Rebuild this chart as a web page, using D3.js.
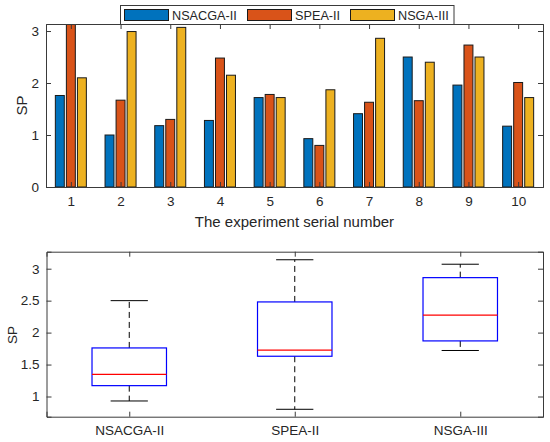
<!DOCTYPE html>
<html>
<head>
<meta charset="utf-8">
<script src="https://cdn.jsdelivr.net/npm/d3@7"></script>
<style>
  body { margin: 0; background: #fff; }
  svg { display: block; font-family: "Liberation Sans", Arial, sans-serif; }
  .tick text { font-size: 13.5px; fill: #262626; }
</style>
</head>
<body>
<svg width="550" height="442"></svg>
<script>
// data
const seriesNames = ["NSACGA-II", "SPEA-II", "NSGA-III"];
const runs = [1, 2, 3, 4, 5, 6, 7, 8, 9, 10];
const nsacga2 = [1.76, 1.00, 1.18, 1.28, 1.72, 0.93, 1.41, 2.50, 1.96, 1.17];
const spea2   = [3.14, 1.67, 1.30, 2.48, 1.78, 0.80, 1.63, 1.66, 2.73, 2.01];
const nsga3   = [2.10, 2.99, 3.07, 2.15, 1.72, 1.87, 2.86, 2.40, 2.50, 1.72];
const seriesColors = ["#0072BD", "#D95319", "#EDB120"];
const barTicks = [0, 1, 2, 3];
const boxTicks = [1, 1.5, 2, 2.5, 3];

const allSeries = [nsacga2, spea2, nsga3];
const svg = d3.select("svg");
const axisColor = "#3a3a3a";

// ---------- upper: grouped bars ----------
const upper = {l: 46, r: 543, t: 24, b: 187};
const x1 = d3.scaleLinear().domain([0.5, 10.5]).range([upper.l, upper.r]);
const y1 = d3.scaleLinear().domain([0, 3.135]).range([upper.b, upper.t]);

svg.append("clipPath").attr("id", "clipTop")
  .append("rect").attr("x", upper.l).attr("y", upper.t).attr("width", upper.r - upper.l).attr("height", upper.b - upper.t);

const barW = 0.18, barOff = 0.222;
const gBars = svg.append("g").attr("clip-path", "url(#clipTop)");
allSeries.forEach((vals, si) => {
  gBars.selectAll(null)
    .data(vals)
    .enter().append("rect")
    .attr("x", (d, i) => x1(runs[i] + (si - 1) * barOff - barW / 2))
    .attr("width", x1(barW) - x1(0))
    .attr("y", d => y1(d))
    .attr("height", d => y1(0) - y1(d))
    .attr("fill", seriesColors[si])
    .attr("stroke", "#1a1a1a")
    .attr("stroke-width", 1);
});

function frame(g, box, xs, ys, xt, yt, xfmt, yfmt) {
  const bx = g.append("g").attr("transform", `translate(0,${box.b})`)
    .call(d3.axisBottom(xs).tickValues(xt).tickSize(-5).tickPadding(9).tickFormat(xfmt));
  const tx = g.append("g").attr("transform", `translate(0,${box.t})`)
    .call(d3.axisTop(xs).tickValues(xt).tickSize(-5).tickFormat(""));
  const ly = g.append("g").attr("transform", `translate(${box.l},0)`)
    .call(d3.axisLeft(ys).tickValues(yt).tickSize(-5).tickPadding(7).tickFormat(yfmt));
  const ry = g.append("g").attr("transform", `translate(${box.r},0)`)
    .call(d3.axisRight(ys).tickValues(yt).tickSize(-5).tickFormat(""));
  [bx, tx, ly, ry].forEach(a => {
    a.selectAll("path.domain").attr("stroke", axisColor).attr("stroke-width", 1);
    a.selectAll(".tick line").attr("stroke", axisColor);
  });
}

frame(svg.append("g"), upper, x1, y1, runs, barTicks, d3.format("d"), d3.format("d"));

svg.append("text")
  .attr("x", (upper.l + upper.r) / 2).attr("y", 227)
  .attr("text-anchor", "middle").attr("font-size", 15).attr("fill", "#262626")
  .text("The experiment serial number");
svg.append("text")
  .attr("transform", `translate(27,${(upper.t + upper.b) / 2}) rotate(-90)`)
  .attr("text-anchor", "middle").attr("font-size", 15).attr("fill", "#262626")
  .text("SP");

// legend
const leg = svg.append("g");
leg.append("rect").attr("x", 120.5).attr("y", 5.5).attr("width", 333.5).attr("height", 19)
  .attr("fill", "#fff").attr("stroke", axisColor).attr("stroke-width", 1);
const legX = [124, 247, 350];
seriesNames.forEach((name, i) => {
  leg.append("rect").attr("x", legX[i] + 0.5).attr("y", 9.5).attr("width", 44).attr("height", 11)
    .attr("fill", seriesColors[i]).attr("stroke", "#1a1a1a");
  leg.append("text").attr("x", legX[i] + 48).attr("y", 20)
    .attr("font-size", 12.7).attr("fill", "#262626").text(name);
});

// ---------- bottom: box plots ----------
const bot = {l: 46.5, r: 543, t: 251.7, b: 416.7};
const x2 = d3.scaleLinear().domain([0.5, 3.5]).range([bot.l, bot.r]);
const y2 = d3.scaleLinear().domain([0.684, 3.266]).range([bot.b, bot.t]);

// MATLAB style quantiles
function mq(sorted, p) {
  const n = sorted.length;
  const pos = p * n + 0.5;
  if (pos <= 1) return sorted[0];
  if (pos >= n) return sorted[n - 1];
  const lo = Math.floor(pos), f = pos - lo;
  return sorted[lo - 1] + f * (sorted[lo] - sorted[lo - 1]);
}
const stats = allSeries.map((vals, i) => {
  const s = vals.slice().sort(d3.ascending);
  const q1 = mq(s, 0.25), med = mq(s, 0.5), q3 = mq(s, 0.75);
  const iqr = q3 - q1;
  const lo = d3.min(s.filter(v => v >= q1 - 1.5 * iqr));
  const hi = d3.max(s.filter(v => v <= q3 + 1.5 * iqr));
  return {k: i + 1, q1, med, q3, lo, hi};
});

const boxW = 0.45, capW = 0.225;
const gBox = svg.append("g");
const bxs = gBox.selectAll("g").data(stats).enter().append("g");
bxs.append("line").attr("x1", d => x2(d.k)).attr("x2", d => x2(d.k))
  .attr("y1", d => y2(d.q3)).attr("y2", d => y2(d.hi))
  .attr("stroke", "#000").attr("stroke-dasharray", "6,4");
bxs.append("line").attr("x1", d => x2(d.k)).attr("x2", d => x2(d.k))
  .attr("y1", d => y2(d.q1)).attr("y2", d => y2(d.lo))
  .attr("stroke", "#000").attr("stroke-dasharray", "6,4");
["hi", "lo"].forEach(key => {
  bxs.append("line").attr("x1", d => x2(d.k - capW / 2)).attr("x2", d => x2(d.k + capW / 2))
    .attr("y1", d => y2(d[key])).attr("y2", d => y2(d[key]))
    .attr("stroke", "#000");
});
bxs.append("rect").attr("x", d => x2(d.k - boxW / 2)).attr("width", x2(boxW) - x2(0))
  .attr("y", d => y2(d.q3)).attr("height", d => y2(d.q1) - y2(d.q3))
  .attr("fill", "none").attr("stroke", "#0000FF").attr("stroke-width", 1.2);
bxs.append("line").attr("x1", d => x2(d.k - boxW / 2)).attr("x2", d => x2(d.k + boxW / 2))
  .attr("y1", d => y2(d.med)).attr("y2", d => y2(d.med))
  .attr("stroke", "#FF0000").attr("stroke-width", 1.2);

frame(svg.append("g"), bot, x2, y2, [1, 2, 3], boxTicks, (d, i) => seriesNames[i], d => d);

svg.append("text")
  .attr("transform", `translate(16.5,335) rotate(-90)`)
  .attr("text-anchor", "middle").attr("font-size", 13.5).attr("fill", "#262626")
  .text("SP");
</script>
</body>
</html>
